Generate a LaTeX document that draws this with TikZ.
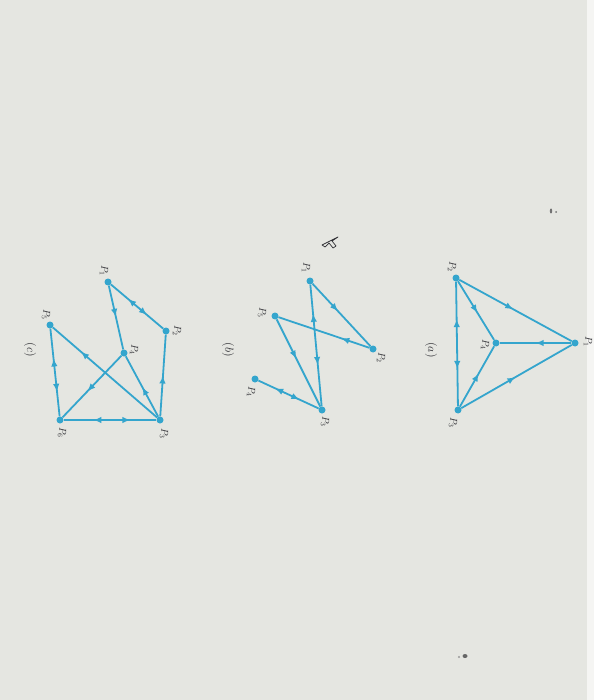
\documentclass[tikz,border=0pt]{standalone}
\usetikzlibrary{decorations.markings,arrows.meta}
\definecolor{bgc}{RGB}{229,230,225}
\definecolor{edgec}{RGB}{52,165,205}
\definecolor{txt}{RGB}{45,45,50}
\tikzset{tipA/.tip={Latex[length=8pt,width=6.5pt]}}
\begin{document}
\begin{tikzpicture}[x=1pt,y=-1pt,
  pt/.style={circle,fill=edgec,inner sep=0pt,minimum size=7pt},
  lab/.style={rotate=-90,font=\fontsize{10}{10}\selectfont,text=txt,inner sep=0pt},
  capt/.style={rotate=-90,font=\fontsize{12}{12}\selectfont,text=txt,inner sep=0pt},
  ln/.style={draw=edgec,line width=1.8pt},
  onearr/.style={ln,postaction={decorate},decoration={markings,mark=at position #1 with {\arrow[color=edgec]{tipA}}}},
  twoarr/.style 2 args={ln,postaction={decorate},decoration={markings,
     mark=at position #1 with {\arrowreversed[color=edgec]{tipA}},
     mark=at position #2 with {\arrow[color=edgec]{tipA}}}}
]
\fill[bgc] (0,0) rectangle (594,700);
\fill[white!60!bgc] (587,0) rectangle (594,700);
\useasboundingbox (0,0) rectangle (594,700);

% ---------- graph (a)
\node[pt] (a1) at (575,343) {};
\node[pt] (a2) at (456,278) {};
\node[pt] (a3) at (458,410) {};
\node[pt] (a4) at (496,343) {};
\draw[onearr=0.48] (a2) -- (a1);
\draw[onearr=0.5] (a1) -- (a4);
\draw[onearr=0.54] (a2) -- (a4);
\draw[onearr=0.55] (a3) -- (a4);
\draw[onearr=0.49] (a3) -- (a1);
\draw[twoarr={0.3}{0.7}] (a2) -- (a3);
\node[lab] (la1) at (588,342) {$P_1$};
\node[lab] (la2) at (452,267) {$P_2$};
\node[lab] (la3) at (453,423) {$P_3$};
\node[lab] (la4) at (485,345) {$P_4$};
\node[capt] (ca) at (431,350) {$(a)$};

% ---------- graph (b)
\node[pt] (b1) at (310,281) {};
\node[pt] (b2) at (373,349) {};
\node[pt] (b3) at (322,410) {};
\node[pt] (b4) at (255,379) {};
\node[pt] (b5) at (275,316) {};
\draw[onearr=0.44] (b1) -- (b2);
\draw[onearr=0.31] (b2) -- (b5);
\draw[onearr=0.45] (b5) -- (b3);
\draw[twoarr={0.24}{0.66}] (b1) -- (b3);
\draw[twoarr={0.28}{0.68}] (b4) -- (b3);
\node[lab] (lb1) at (306,268) {$P_1$};
\node[lab] (lb2) at (381,358) {$P_2$};
\node[lab] (lb3) at (325,422) {$P_3$};
\node[lab] (lb4) at (251,392) {$P_4$};
\node[lab] (lb5) at (262,313) {$P_5$};
\node[capt] (cb) at (228,350) {$(b)$};

% ---------- graph (c)
\node[pt] (c1) at (108,282) {};
\node[pt] (c2) at (166,331) {};
\node[pt] (c3) at (160,420) {};
\node[pt] (c4) at (124,353) {};
\node[pt] (c5) at (50,325) {};
\node[pt] (c6) at (60,420) {};
\draw[onearr=0.49] (c1) -- (c4);
\draw[twoarr={0.33}{0.69}] (c1) -- (c2);
\draw[onearr=0.5] (c3) -- (c2);
\draw[onearr=0.49] (c3) -- (c4);
\draw[onearr=0.58] (c4) -- (c6);
\draw[onearr=0.73] (c3) -- (c5);
\draw[twoarr={0.34}{0.72}] (c5) -- (c6);
\draw[twoarr={0.32}{0.72}] (c6) -- (c3);
\node[lab] (lc1) at (104,271) {$P_1$};
\node[lab] (lc2) at (177,331) {$P_2$};
\node[lab] (lc3) at (164,434) {$P_3$};
\node[lab] (lc4) at (134,350) {$P_4$};
\node[lab] (lc5) at (46,315) {$P_5$};
\node[lab] (lc6) at (62,433) {$P_6$};
\node[capt] (cc) at (30,350) {$(c)$};

% ---------- cursor and specks
\draw[txt,line width=0.7pt,line join=round] (322,245) -- (338,237) -- (332,241) -- (336,246) -- (333,248) -- (329,243) -- (325,247) -- cycle;
\fill[black!55] (551,211) ellipse (1.2pt and 2.5pt);
\fill[black!55] (556,212) circle (1pt);
\fill[black!60] (465,656) ellipse (2.5pt and 2pt);
\fill[black!40] (459,657) circle (1.2pt);
\end{tikzpicture}
\end{document}
